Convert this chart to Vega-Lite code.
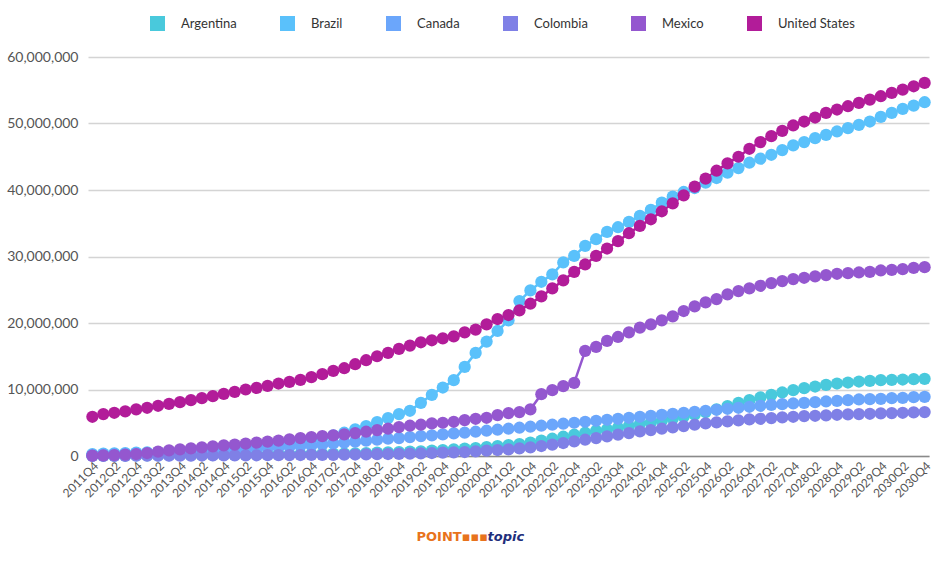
{
  "$schema": "https://vega.github.io/schema/vega-lite/v6.json",
  "width": 841,
  "height": 399,
  "autosize": {"type": "none"},
  "padding": {"left": 88, "top": 57, "right": 11, "bottom": 112},
  "background": "white",
  "config": {"view": {"stroke": null}, "font": "Lato"},
  "data": {
    "values": [
      {"q": "2011Q4", "Argentina": 50000, "Brazil": 300000, "Canada": 150000, "Colombia": 20000, "Mexico": 50000, "United States": 5900000},
      {"q": "2012Q1", "Argentina": 50000, "Brazil": 350000, "Canada": 200000, "Colombia": 20000, "Mexico": 100000, "United States": 6300000},
      {"q": "2012Q2", "Argentina": 60000, "Brazil": 400000, "Canada": 250000, "Colombia": 30000, "Mexico": 150000, "United States": 6500000},
      {"q": "2012Q3", "Argentina": 70000, "Brazil": 450000, "Canada": 300000, "Colombia": 30000, "Mexico": 200000, "United States": 6700000},
      {"q": "2012Q4", "Argentina": 80000, "Brazil": 500000, "Canada": 350000, "Colombia": 40000, "Mexico": 300000, "United States": 7000000},
      {"q": "2013Q1", "Argentina": 90000, "Brazil": 550000, "Canada": 400000, "Colombia": 40000, "Mexico": 450000, "United States": 7250000},
      {"q": "2013Q2", "Argentina": 100000, "Brazil": 600000, "Canada": 450000, "Colombia": 50000, "Mexico": 650000, "United States": 7550000},
      {"q": "2013Q3", "Argentina": 110000, "Brazil": 650000, "Canada": 500000, "Colombia": 50000, "Mexico": 850000, "United States": 7850000},
      {"q": "2013Q4", "Argentina": 120000, "Brazil": 700000, "Canada": 550000, "Colombia": 60000, "Mexico": 1000000, "United States": 8100000},
      {"q": "2014Q1", "Argentina": 130000, "Brazil": 800000, "Canada": 600000, "Colombia": 60000, "Mexico": 1150000, "United States": 8400000},
      {"q": "2014Q2", "Argentina": 140000, "Brazil": 900000, "Canada": 700000, "Colombia": 70000, "Mexico": 1300000, "United States": 8700000},
      {"q": "2014Q3", "Argentina": 150000, "Brazil": 1000000, "Canada": 750000, "Colombia": 80000, "Mexico": 1450000, "United States": 9000000},
      {"q": "2014Q4", "Argentina": 160000, "Brazil": 1100000, "Canada": 850000, "Colombia": 90000, "Mexico": 1600000, "United States": 9350000},
      {"q": "2015Q1", "Argentina": 170000, "Brazil": 1200000, "Canada": 900000, "Colombia": 100000, "Mexico": 1700000, "United States": 9650000},
      {"q": "2015Q2", "Argentina": 180000, "Brazil": 1350000, "Canada": 1000000, "Colombia": 100000, "Mexico": 1850000, "United States": 10000000},
      {"q": "2015Q3", "Argentina": 200000, "Brazil": 1500000, "Canada": 1100000, "Colombia": 110000, "Mexico": 2000000, "United States": 10250000},
      {"q": "2015Q4", "Argentina": 220000, "Brazil": 1650000, "Canada": 1200000, "Colombia": 120000, "Mexico": 2150000, "United States": 10550000},
      {"q": "2016Q1", "Argentina": 240000, "Brazil": 1800000, "Canada": 1300000, "Colombia": 130000, "Mexico": 2300000, "United States": 10900000},
      {"q": "2016Q2", "Argentina": 260000, "Brazil": 2000000, "Canada": 1400000, "Colombia": 140000, "Mexico": 2500000, "United States": 11150000},
      {"q": "2016Q3", "Argentina": 280000, "Brazil": 2200000, "Canada": 1500000, "Colombia": 150000, "Mexico": 2700000, "United States": 11450000},
      {"q": "2016Q4", "Argentina": 300000, "Brazil": 2500000, "Canada": 1600000, "Colombia": 160000, "Mexico": 2850000, "United States": 11850000},
      {"q": "2017Q1", "Argentina": 320000, "Brazil": 2800000, "Canada": 1750000, "Colombia": 170000, "Mexico": 3000000, "United States": 12300000},
      {"q": "2017Q2", "Argentina": 350000, "Brazil": 3100000, "Canada": 1900000, "Colombia": 180000, "Mexico": 3100000, "United States": 12800000},
      {"q": "2017Q3", "Argentina": 380000, "Brazil": 3500000, "Canada": 2000000, "Colombia": 200000, "Mexico": 3250000, "United States": 13200000},
      {"q": "2017Q4", "Argentina": 410000, "Brazil": 4000000, "Canada": 2150000, "Colombia": 220000, "Mexico": 3450000, "United States": 13800000},
      {"q": "2018Q1", "Argentina": 450000, "Brazil": 4500000, "Canada": 2300000, "Colombia": 240000, "Mexico": 3650000, "United States": 14400000},
      {"q": "2018Q2", "Argentina": 500000, "Brazil": 5100000, "Canada": 2450000, "Colombia": 270000, "Mexico": 3900000, "United States": 15000000},
      {"q": "2018Q3", "Argentina": 550000, "Brazil": 5700000, "Canada": 2600000, "Colombia": 300000, "Mexico": 4100000, "United States": 15500000},
      {"q": "2018Q4", "Argentina": 600000, "Brazil": 6300000, "Canada": 2700000, "Colombia": 330000, "Mexico": 4350000, "United States": 16100000},
      {"q": "2019Q1", "Argentina": 650000, "Brazil": 6800000, "Canada": 2850000, "Colombia": 360000, "Mexico": 4550000, "United States": 16600000},
      {"q": "2019Q2", "Argentina": 700000, "Brazil": 8000000, "Canada": 3000000, "Colombia": 400000, "Mexico": 4700000, "United States": 17100000},
      {"q": "2019Q3", "Argentina": 800000, "Brazil": 9200000, "Canada": 3100000, "Colombia": 450000, "Mexico": 4900000, "United States": 17400000},
      {"q": "2019Q4", "Argentina": 900000, "Brazil": 10300000, "Canada": 3250000, "Colombia": 500000, "Mexico": 5000000, "United States": 17700000},
      {"q": "2020Q1", "Argentina": 1000000, "Brazil": 11400000, "Canada": 3400000, "Colombia": 550000, "Mexico": 5150000, "United States": 18000000},
      {"q": "2020Q2", "Argentina": 1100000, "Brazil": 13400000, "Canada": 3500000, "Colombia": 600000, "Mexico": 5400000, "United States": 18600000},
      {"q": "2020Q3", "Argentina": 1200000, "Brazil": 15500000, "Canada": 3650000, "Colombia": 700000, "Mexico": 5600000, "United States": 19000000},
      {"q": "2020Q4", "Argentina": 1350000, "Brazil": 17200000, "Canada": 3800000, "Colombia": 800000, "Mexico": 5750000, "United States": 19800000},
      {"q": "2021Q1", "Argentina": 1500000, "Brazil": 18800000, "Canada": 3950000, "Colombia": 900000, "Mexico": 6150000, "United States": 20600000},
      {"q": "2021Q2", "Argentina": 1650000, "Brazil": 20400000, "Canada": 4100000, "Colombia": 1000000, "Mexico": 6450000, "United States": 21200000},
      {"q": "2021Q3", "Argentina": 1800000, "Brazil": 23300000, "Canada": 4250000, "Colombia": 1150000, "Mexico": 6600000, "United States": 21900000},
      {"q": "2021Q4", "Argentina": 2000000, "Brazil": 24900000, "Canada": 4400000, "Colombia": 1300000, "Mexico": 7000000, "United States": 22900000},
      {"q": "2022Q1", "Argentina": 2300000, "Brazil": 26200000, "Canada": 4550000, "Colombia": 1500000, "Mexico": 9300000, "United States": 24000000},
      {"q": "2022Q2", "Argentina": 2600000, "Brazil": 27300000, "Canada": 4700000, "Colombia": 1700000, "Mexico": 9900000, "United States": 25200000},
      {"q": "2022Q3", "Argentina": 2900000, "Brazil": 29100000, "Canada": 4850000, "Colombia": 1950000, "Mexico": 10500000, "United States": 26400000},
      {"q": "2022Q4", "Argentina": 3200000, "Brazil": 30100000, "Canada": 5000000, "Colombia": 2200000, "Mexico": 11000000, "United States": 27700000},
      {"q": "2023Q1", "Argentina": 3500000, "Brazil": 31600000, "Canada": 5150000, "Colombia": 2450000, "Mexico": 15800000, "United States": 28800000},
      {"q": "2023Q2", "Argentina": 3800000, "Brazil": 32600000, "Canada": 5300000, "Colombia": 2700000, "Mexico": 16400000, "United States": 30100000},
      {"q": "2023Q3", "Argentina": 4000000, "Brazil": 33700000, "Canada": 5450000, "Colombia": 2950000, "Mexico": 17300000, "United States": 31200000},
      {"q": "2023Q4", "Argentina": 4250000, "Brazil": 34400000, "Canada": 5600000, "Colombia": 3200000, "Mexico": 17900000, "United States": 32300000},
      {"q": "2024Q1", "Argentina": 4500000, "Brazil": 35200000, "Canada": 5750000, "Colombia": 3450000, "Mexico": 18600000, "United States": 33500000},
      {"q": "2024Q2", "Argentina": 4800000, "Brazil": 36100000, "Canada": 5900000, "Colombia": 3700000, "Mexico": 19300000, "United States": 34600000},
      {"q": "2024Q3", "Argentina": 5050000, "Brazil": 37000000, "Canada": 6050000, "Colombia": 3900000, "Mexico": 19800000, "United States": 35600000},
      {"q": "2024Q4", "Argentina": 5300000, "Brazil": 38100000, "Canada": 6200000, "Colombia": 4100000, "Mexico": 20400000, "United States": 36800000},
      {"q": "2025Q1", "Argentina": 5600000, "Brazil": 39000000, "Canada": 6350000, "Colombia": 4300000, "Mexico": 21000000, "United States": 38000000},
      {"q": "2025Q2", "Argentina": 5900000, "Brazil": 39700000, "Canada": 6500000, "Colombia": 4500000, "Mexico": 21800000, "United States": 39200000},
      {"q": "2025Q3", "Argentina": 6200000, "Brazil": 40300000, "Canada": 6650000, "Colombia": 4700000, "Mexico": 22500000, "United States": 40500000},
      {"q": "2025Q4", "Argentina": 6600000, "Brazil": 41100000, "Canada": 6800000, "Colombia": 4900000, "Mexico": 23100000, "United States": 41700000},
      {"q": "2026Q1", "Argentina": 7000000, "Brazil": 41800000, "Canada": 6950000, "Colombia": 5050000, "Mexico": 23600000, "United States": 42900000},
      {"q": "2026Q2", "Argentina": 7500000, "Brazil": 42600000, "Canada": 7100000, "Colombia": 5200000, "Mexico": 24300000, "United States": 44000000},
      {"q": "2026Q3", "Argentina": 8000000, "Brazil": 43300000, "Canada": 7250000, "Colombia": 5350000, "Mexico": 24800000, "United States": 45000000},
      {"q": "2026Q4", "Argentina": 8400000, "Brazil": 44100000, "Canada": 7400000, "Colombia": 5500000, "Mexico": 25200000, "United States": 46200000},
      {"q": "2027Q1", "Argentina": 8800000, "Brazil": 44700000, "Canada": 7550000, "Colombia": 5600000, "Mexico": 25600000, "United States": 47200000},
      {"q": "2027Q2", "Argentina": 9200000, "Brazil": 45300000, "Canada": 7700000, "Colombia": 5700000, "Mexico": 26000000, "United States": 48100000},
      {"q": "2027Q3", "Argentina": 9550000, "Brazil": 46000000, "Canada": 7800000, "Colombia": 5800000, "Mexico": 26300000, "United States": 48900000},
      {"q": "2027Q4", "Argentina": 9900000, "Brazil": 46700000, "Canada": 7900000, "Colombia": 5900000, "Mexico": 26600000, "United States": 49700000},
      {"q": "2028Q1", "Argentina": 10200000, "Brazil": 47200000, "Canada": 8000000, "Colombia": 6000000, "Mexico": 26800000, "United States": 50300000},
      {"q": "2028Q2", "Argentina": 10450000, "Brazil": 47800000, "Canada": 8100000, "Colombia": 6050000, "Mexico": 27000000, "United States": 50900000},
      {"q": "2028Q3", "Argentina": 10700000, "Brazil": 48300000, "Canada": 8200000, "Colombia": 6100000, "Mexico": 27200000, "United States": 51600000},
      {"q": "2028Q4", "Argentina": 10900000, "Brazil": 48800000, "Canada": 8300000, "Colombia": 6200000, "Mexico": 27400000, "United States": 52100000},
      {"q": "2029Q1", "Argentina": 11050000, "Brazil": 49300000, "Canada": 8400000, "Colombia": 6250000, "Mexico": 27500000, "United States": 52600000},
      {"q": "2029Q2", "Argentina": 11200000, "Brazil": 49800000, "Canada": 8500000, "Colombia": 6300000, "Mexico": 27600000, "United States": 53100000},
      {"q": "2029Q3", "Argentina": 11300000, "Brazil": 50300000, "Canada": 8550000, "Colombia": 6350000, "Mexico": 27700000, "United States": 53600000},
      {"q": "2029Q4", "Argentina": 11400000, "Brazil": 51000000, "Canada": 8600000, "Colombia": 6400000, "Mexico": 27900000, "United States": 54100000},
      {"q": "2030Q1", "Argentina": 11450000, "Brazil": 51600000, "Canada": 8700000, "Colombia": 6450000, "Mexico": 28000000, "United States": 54600000},
      {"q": "2030Q2", "Argentina": 11500000, "Brazil": 52200000, "Canada": 8750000, "Colombia": 6500000, "Mexico": 28100000, "United States": 55100000},
      {"q": "2030Q3", "Argentina": 11550000, "Brazil": 52700000, "Canada": 8850000, "Colombia": 6550000, "Mexico": 28300000, "United States": 55600000},
      {"q": "2030Q4", "Argentina": 11600000, "Brazil": 53200000, "Canada": 8900000, "Colombia": 6600000, "Mexico": 28400000, "United States": 56100000}
    ]
  },
  "transform": [
    {"fold": ["Argentina", "Brazil", "Canada", "Colombia", "Mexico", "United States"], "as": ["country", "subscribers"]}
  ],
  "encoding": {
    "x": {
      "field": "q",
      "type": "ordinal",
      "sort": null,
      "scale": {"type": "point", "padding": 0.4},
      "axis": {
        "values": ["2011Q4", "2012Q2", "2012Q4", "2013Q2", "2013Q4", "2014Q2", "2014Q4", "2015Q2", "2015Q4", "2016Q2", "2016Q4", "2017Q2", "2017Q4", "2018Q2", "2018Q4", "2019Q2", "2019Q4", "2020Q2", "2020Q4", "2021Q2", "2021Q4", "2022Q2", "2022Q4", "2023Q2", "2023Q4", "2024Q2", "2024Q4", "2025Q2", "2025Q4", "2026Q2", "2026Q4", "2027Q2", "2027Q4", "2028Q2", "2028Q4", "2029Q2", "2029Q4", "2030Q2", "2030Q4"],
        "labelAngle": -45,
        "labelFontSize": 12,
        "labelColor": "#555555",
        "labelOverlap": false,
        "labelPadding": 4,
        "ticks": false,
        "grid": false,
        "domainColor": "#8a8a8a",
        "domainWidth": 1.5,
        "title": "POINT▪▪▪",
        "titleFont": "DejaVu Sans",
        "titleFontSize": 13,
        "titleFontWeight": "bold",
        "titleColor": "#e8731c",
        "titleAlign": "left",
        "titleBaseline": "middle",
        "titleX": 328,
        "titleY": 80
      }
    },
    "y": {
      "field": "subscribers",
      "type": "quantitative",
      "scale": {"domain": [0, 60000000], "nice": false},
      "axis": {
        "values": [0, 10000000, 20000000, 30000000, 40000000, 50000000, 60000000],
        "format": ",.0f",
        "labelFontSize": 14,
        "labelColor": "#555555",
        "labelPadding": 10,
        "ticks": false,
        "tickSize": 0,
        "domain": false,
        "grid": true,
        "gridColor": "#d4d4d4",
        "gridWidth": 1.5,
        "title": "topic",
        "titleFont": "DejaVu Sans",
        "titleFontSize": 13,
        "titleFontWeight": "bold",
        "titleFontStyle": "italic",
        "titleColor": "#1f2f7c",
        "titleAngle": 0,
        "titleAlign": "left",
        "titleBaseline": "middle",
        "titleX": 399,
        "titleY": 479
      }
    },
    "color": {
      "field": "country",
      "type": "nominal",
      "scale": {
        "domain": ["Argentina", "Brazil", "Canada", "Colombia", "Mexico", "United States"],
        "range": ["#49c9dc", "#5ac1fb", "#6ba6fb", "#7f80e6", "#9457cf", "#b21c99"]
      },
      "legend": {
        "title": null,
        "orient": "none",
        "direction": "horizontal",
        "legendX": 62,
        "legendY": -41,
        "padding": 0,
        "symbolType": "square",
        "symbolSize": 225,
        "symbolStrokeWidth": 0,
        "symbolOpacity": 1,
        "labelFontSize": 13,
        "labelColor": "#333333",
        "labelOffset": 16,
        "columnPadding": 43,
        "encode": {
          "symbols": {"update": {"fill": {"scale": "color", "field": "value"}, "strokeWidth": {"value": 0}}}
        }
      }
    }
  },
  "layer": [
    {"mark": {"type": "line", "strokeWidth": 2.5}},
    {
      "mark": {"type": "circle", "size": 150, "opacity": 1},
      "encoding": {"order": {"field": "country"}}
    }
  ]
}
